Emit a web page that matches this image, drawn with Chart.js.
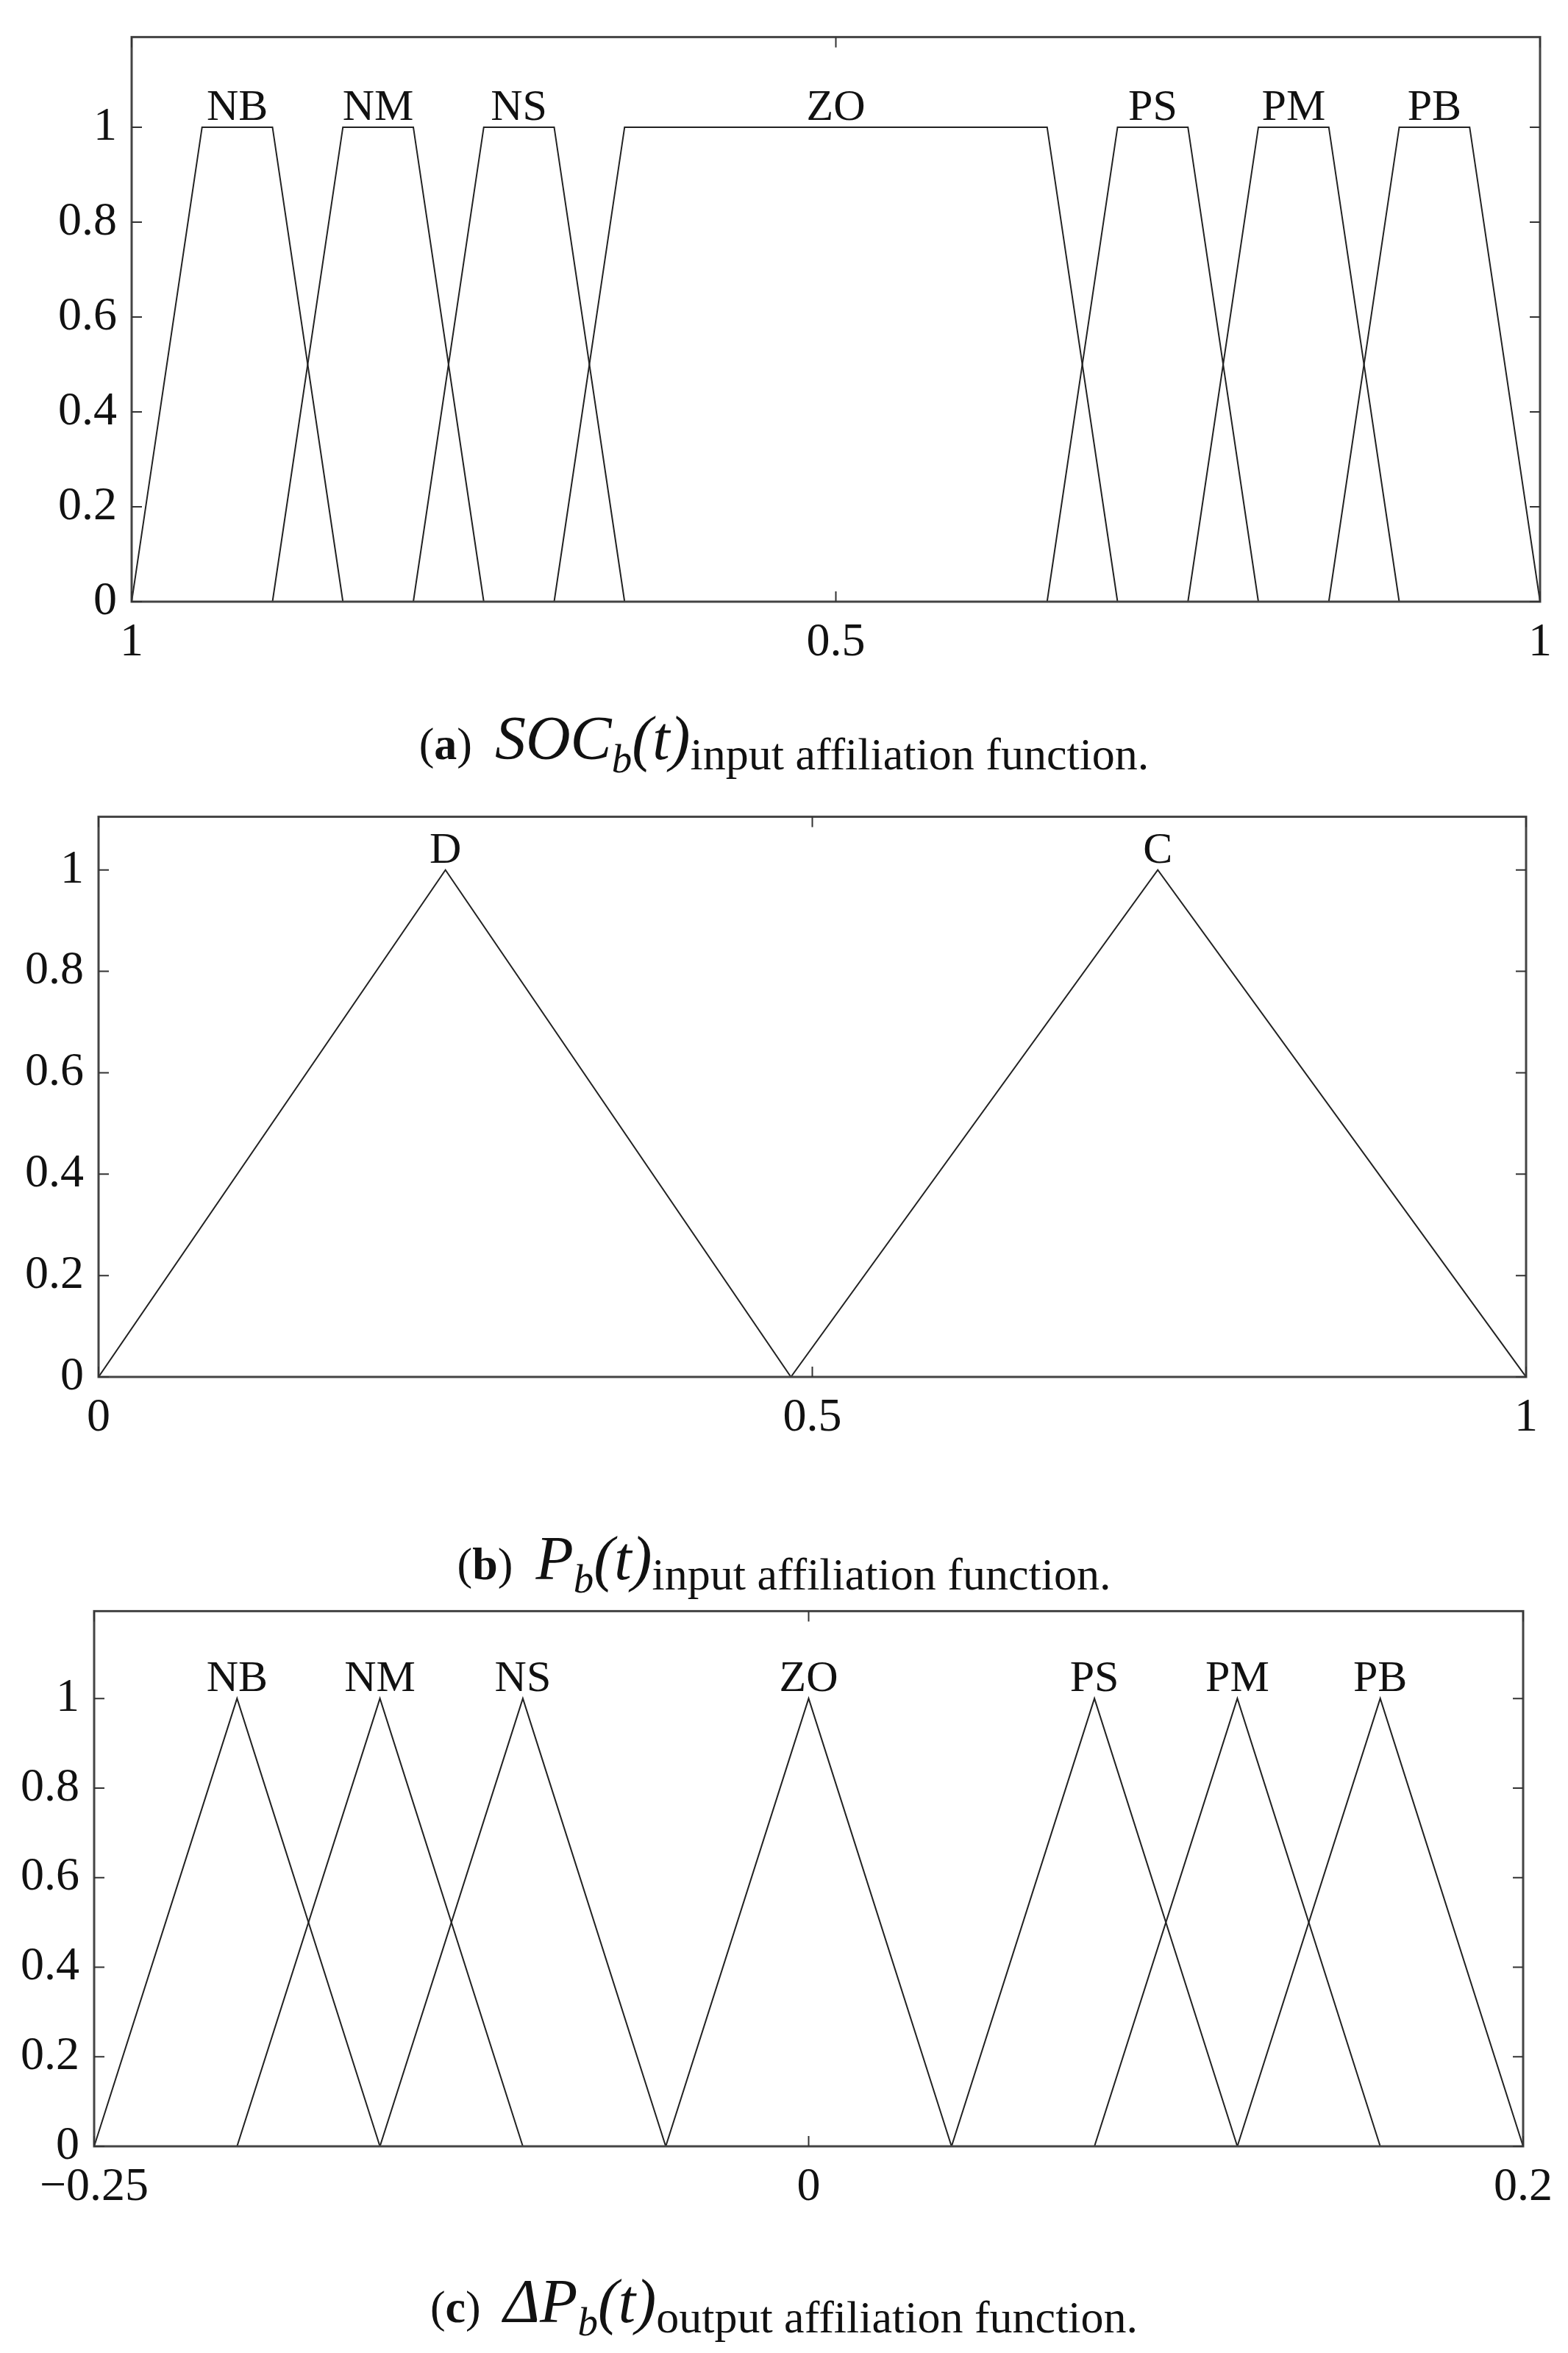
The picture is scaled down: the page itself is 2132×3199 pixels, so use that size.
<!DOCTYPE html>
<html><head><meta charset="utf-8">
<script src="https://cdn.jsdelivr.net/npm/chart.js@4"></script>
<style>
body{margin:0;background:#fff;}
#wrap{position:relative;width:2132px;height:3199px;background:#fff;font-family:"Liberation Serif",serif;}
.c{position:absolute;left:0;width:2132px;}
.cap{position:absolute;left:0;width:2132px;text-align:center;font-size:62px;color:#111;white-space:nowrap;}
.cap i{font-size:84px;}
.cap .s{position:relative;top:14px;}
</style></head><body>
<div id="wrap">
<div class="c" style="top:0;height:908px"><canvas id="ca"></canvas></div>
<div class="c" style="top:1060px;height:902px"><canvas id="cb"></canvas></div>
<div class="c" style="top:2140px;height:868px"><canvas id="cc"></canvas></div>
<div class="cap" style="top:955px">(<b>a</b>)&nbsp; <i>SOC<sub style="font-size:55px">b</sub>(t)</i><span class="s">input affiliation function.</span></div>
<div class="cap" style="top:2070px">(<b>b</b>)&nbsp; <i>P<sub style="font-size:55px">b</sub>(t)</i><span class="s">input affiliation function.</span></div>
<div class="cap" style="top:3080px">(<b>c</b>)&nbsp; <i>ΔP<sub style="font-size:55px">b</sub>(t)</i><span class="s">output affiliation function.</span></div>
</div>
<script>
// Panel (a): SOC_b(t) input memberships (normalized x)
const aNames = ["NB","NM","NS","ZO","PS","PM","PB"];
const aX = [[0,0.05,0.1,0.15],[0.1,0.15,0.2,0.25],[0.2,0.25,0.3,0.35],[0.3,0.35,0.65,0.7],[0.65,0.7,0.75,0.8],[0.75,0.8,0.85,0.9],[0.85,0.9,0.95,1.0]];
const aY = [0,1,1,0];
const aTickPos = [0,0.5,1];
const aTickLabels = ["1","0.5","1"];
// Panel (b): P_b(t)
const bNames = ["D","C"];
const bX = [[0,0.243,0.485],[0.485,0.742,1]];
const bY = [0,1,0];
const bTickPos = [0,0.5,1];
const bTickLabels = ["0","0.5","1"];
// Panel (c): ΔP_b(t) output (normalized x)
const cNames = ["NB","NM","NS","ZO","PS","PM","PB"];
const cX = [[0,0.1,0.2],[0.1,0.2,0.3],[0.2,0.3,0.4],[0.4,0.5,0.6],[0.6,0.7,0.8],[0.7,0.8,0.9],[0.8,0.9,1.0]];
const cY = [0,1,0];
const cTickPos = [0,0.5,1];
const cTickLabels = ["\u22120.25","0","0.2"];
const yTicks = [0,0.2,0.4,0.6,0.8,1];

const FONT = '"Liberation Serif", "Times New Roman", serif';
function make(id, names, xs, ys, tickPos, tickLabels, ymax, padTop, padRight, yw){
  const datasets = xs.map((arr,i)=>({label:names[i],data:arr.map((x,j)=>({x:x,y:ys[j]})),borderColor:'#222',borderWidth:2,pointRadius:0,fill:false,tension:0}));
  const plug = {id:'deco',afterDraw(ch){
    const c=ch.ctx, a=ch.chartArea, xs_=ch.scales.x, ys_=ch.scales.y;
    c.save();
    c.strokeStyle='#444';c.lineWidth=3;c.strokeRect(a.left,a.top,a.right-a.left,a.bottom-a.top);
    c.lineWidth=2;c.strokeStyle='#333';
    tickPos.forEach(p=>{const px=xs_.getPixelForValue(p);c.beginPath();c.moveTo(px,a.bottom);c.lineTo(px,a.bottom-14);c.moveTo(px,a.top);c.lineTo(px,a.top+14);c.stroke();});
    yTicks.forEach(v=>{const py=ys_.getPixelForValue(v);c.beginPath();c.moveTo(a.left,py);c.lineTo(a.left+14,py);c.moveTo(a.right,py);c.lineTo(a.right-14,py);c.stroke();});
    c.fillStyle='#111';c.font='60px '+FONT;c.textAlign='center';c.textBaseline='bottom';
    ch.data.datasets.forEach(ds=>{const d=ds.data;let mid;
      if(d.length===4) mid=(d[1].x+d[2].x)/2; else mid=d[1].x;
      c.fillText(ds.label,xs_.getPixelForValue(mid),ys_.getPixelForValue(1)+4);});
    c.restore();}};
  new Chart(document.getElementById(id),{type:'line',data:{datasets},
    options:{responsive:true,maintainAspectRatio:false,animation:false,
      layout:{padding:{top:padTop,right:padRight,left:0,bottom:0}},
      plugins:{legend:{display:false},tooltip:{enabled:false}},
      scales:{
        x:{type:'linear',min:0,max:1,grid:{display:false},border:{display:false},
          afterBuildTicks(s){s.ticks=tickPos.map(v=>({value:v}));},
          afterFit(s){s.height=90;},
          ticks:{color:'#111',font:{family:FONT,size:64},padding:10,maxRotation:0,autoSkip:false,
            callback:(v,i)=>tickLabels[i]}},
        y:{type:'linear',min:0,max:ymax,grid:{display:false},border:{display:false},
          afterBuildTicks(s){s.ticks=yTicks.map(v=>({value:v}));},
          afterFit(s){s.width=yw;},
          ticks:{color:'#111',font:{family:FONT,size:64},padding:12,callback:v=>String(v)}}}},
    plugins:[plug]});
}
make('ca',aNames,aX,aY,aTickPos,aTickLabels,1.19,24,38,179);
make('cb',bNames,bX,bY,bTickPos,bTickLabels,1.105,26,57,134);
make('cc',cNames,cX,cY,cTickPos,cTickLabels,1.195,25,61,128);
</script>
</body></html>
